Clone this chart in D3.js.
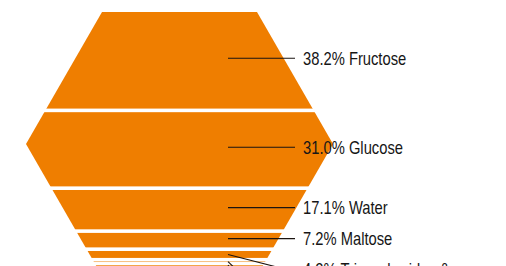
<!DOCTYPE html>
<html>
<head>
<meta charset="utf-8">
<script src="https://cdn.jsdelivr.net/npm/d3@7"></script>
<style>
  html, body { margin: 0; padding: 0; background: #fff; }
  #chart { width: 506px; height: 266px; overflow: hidden; }
</style>
</head>
<body>
<div id="chart"></div>
<script>
// honey composition, top to bottom
var categories = ["Fructose", "Glucose", "Water", "Maltose", "Trisaccharides &|other carbohydrates", "Sucrose", "Minerals, vitamins|& enzymes"];
var shares = [38.2, 31.0, 17.1, 7.2, 4.2, 1.5, 0.5];

var width = 506,
    height = 266;

var svg = d3.select("#chart")
  .append("svg")
  .attr("width", width)
  .attr("height", height);

// hexagon outline (flat top)
var hexTop = 12, hexBottom = 276, hexMid = 144;
var hexLeft = 26, hexRight = 333, topL = 102, topR = 257;
var hex = [[topL, hexTop], [topR, hexTop], [hexRight, hexMid], [topR, hexBottom], [topL, hexBottom], [hexLeft, hexMid]];

svg.append("clipPath")
  .attr("id", "hexClip")
  .append("polygon")
  .attr("points", hex.map(function (p) { return p.join(","); }).join(" "));

// cumulative share -> vertical position
var y = d3.scaleLinear()
  .domain([0, 100])
  .range([14.5, 265.5]);

var rows = [];
var cum = 0;
shares.forEach(function (v, i) {
  rows.push({ name: categories[i], value: v, start: cum, end: cum + v });
  cum += v;
});

var gap = 1.8;
var bandTop = function (d, i) { return i === 0 ? hexTop : y(d.start) + gap; };
var bandBottom = function (d, i) { return i === rows.length - 1 ? hexBottom : y(d.end) - gap; };

// the bands
svg.append("g")
  .attr("clip-path", "url(#hexClip)")
  .selectAll("rect")
  .data(rows)
  .enter()
  .append("rect")
  .attr("x", hexLeft - 2)
  .attr("width", hexRight - hexLeft + 4)
  .attr("y", bandTop)
  .attr("height", function (d, i) { return Math.max(0.5, bandBottom(d, i) - bandTop(d, i)); })
  .style("fill", "#ef7e00");

// label positions: band middle, pushed down when bands get thin
var lineX0 = 228, lineX1 = 295, textX = 303;
var prev = -Infinity;
rows.forEach(function (d, i) {
  d.mid = (bandTop(d, i) + Math.min(bandBottom(d, i), y(d.end))) / 2;
  d.ly = Math.max(d.mid - 2, prev + 31);
  // straight leader unless the label had to move down a lot
  d.y0 = (d.ly - d.mid > 6) ? d.mid : d.ly;
  prev = d.ly + (d.name.split("|").length - 1) * 18;
});

var fmt = d3.format(".1f");

var labels = svg.append("g")
  .selectAll("g")
  .data(rows)
  .enter()
  .append("g");

labels.append("line")
  .attr("x1", lineX0)
  .attr("y1", function (d) { return d.y0; })
  .attr("x2", function (d) { return d.y0 === d.ly ? lineX1 : lineX1 - 8; })
  .attr("y2", function (d) { return d.ly; })
  .style("stroke", "#1b1410")
  .style("stroke-width", 1.1);

// condensed look: squeeze the text horizontally
labels.append("text")
  .attr("transform", function (d) { return "translate(" + textX + "," + d.ly + ") scale(0.82,1)"; })
  .style("font-family", "'Liberation Sans', Arial, sans-serif")
  .style("font-size", "18px")
  .style("fill", "#161616")
  .each(function (d) {
    var parts = d.name.split("|");
    var t = d3.select(this);
    parts.forEach(function (p, k) {
      t.append("tspan")
        .attr("x", 0)
        .attr("dy", k === 0 ? "0.36em" : "1.1em")
        .text(k === 0 ? fmt(d.value) + "% " + p : p);
    });
  });
</script>
</body>
</html>
